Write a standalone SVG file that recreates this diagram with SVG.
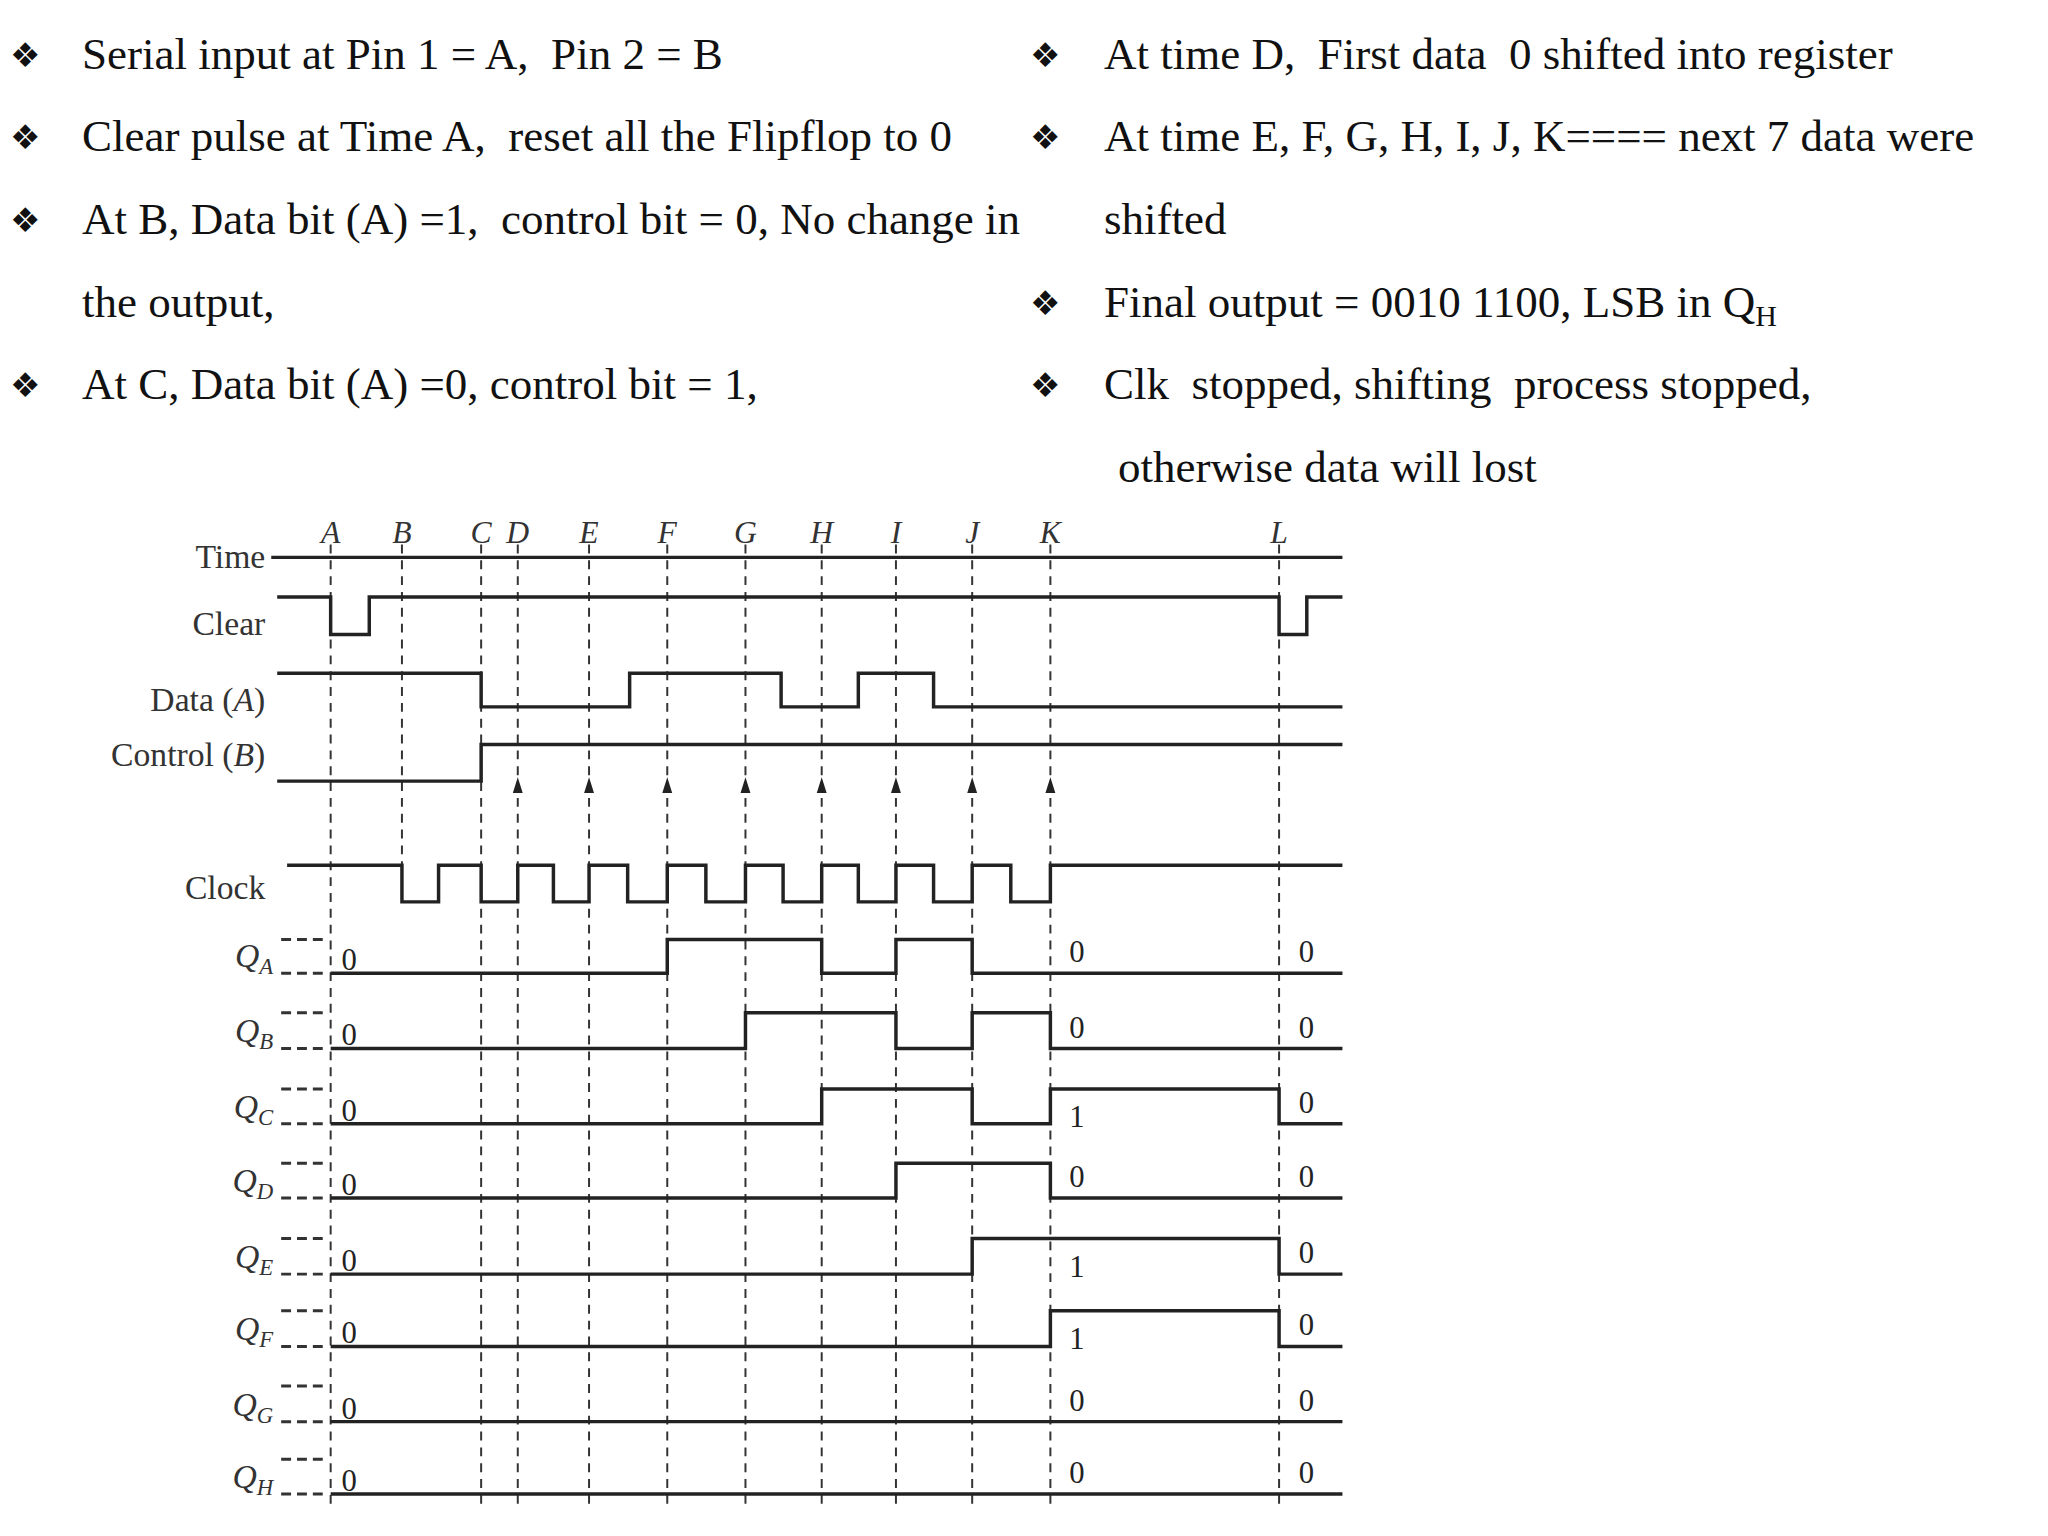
<svg xmlns="http://www.w3.org/2000/svg" width="2048" height="1536" viewBox="0 0 2048 1536">
<style>
.t{font-family:"Liberation Serif",serif;font-size:45px;fill:#111;white-space:pre}
.b{font-family:"DejaVu Sans",sans-serif;font-size:34px;fill:#111}
.l{font-family:"Liberation Serif",serif;font-size:34px;fill:#333;text-anchor:end}
.q{font-family:"Liberation Serif",serif;font-size:34px;font-style:italic;fill:#333;text-anchor:end}
.tl{font-family:"Liberation Serif",serif;font-size:32px;font-style:italic;fill:#333;text-anchor:middle}
.v{font-family:"Liberation Serif",serif;font-size:31px;fill:#222}
.w{fill:none;stroke:#222;stroke-width:3.5}
.d{fill:none;stroke:#333;stroke-width:2;stroke-dasharray:9,7}
.s{fill:none;stroke:#333;stroke-width:3;stroke-dasharray:10,6}
</style>
<g id="text">
<text class="b" x="10" y="67">❖</text><text class="t" x="82" y="69" xml:space="preserve">Serial input at Pin 1 = A,  Pin 2 = B</text>
<text class="b" x="10" y="149">❖</text><text class="t" x="82" y="151" xml:space="preserve">Clear pulse at Time A,  reset all the Flipflop to 0</text>
<text class="b" x="10" y="232">❖</text><text class="t" x="82" y="234" xml:space="preserve">At B, Data bit (A) =1,  control bit = 0, No change in</text>
<text class="t" x="82" y="317">the output,</text>
<text class="b" x="10" y="397">❖</text><text class="t" x="82" y="399">At C, Data bit (A) =0, control bit = 1,</text>
<text class="b" x="1030" y="67">❖</text><text class="t" x="1104" y="69" xml:space="preserve">At time D,  First data  0 shifted into register</text>
<text class="b" x="1030" y="149">❖</text><text class="t" x="1104" y="151">At time E, F, G, H, I, J, K==== next 7 data were</text>
<text class="t" x="1104" y="234">shifted</text>
<text class="b" x="1030" y="315">❖</text><text class="t" x="1104" y="317">Final output = 0010 1100, LSB in Q<tspan font-size="30" dy="9">H</tspan></text>
<text class="b" x="1030" y="397">❖</text><text class="t" x="1104" y="399" xml:space="preserve">Clk  stopped, shifting  process stopped,</text>
<text class="t" x="1118" y="482">otherwise data will lost</text>
</g>
<g transform="scale(0.99)">
<g id="labels">
<text class="l" x="268" y="574">Time</text>
<text class="l" x="268" y="641">Clear</text>
<text class="l" x="268" y="718">Data (<tspan font-style="italic">A</tspan>)</text>
<text class="l" x="268" y="774">Control (<tspan font-style="italic">B</tspan>)</text>
<text class="l" x="268" y="908">Clock</text>
<text class="tl" x="334" y="548">A</text><text class="tl" x="406" y="548">B</text><text class="tl" x="486" y="548">C</text><text class="tl" x="523" y="548">D</text><text class="tl" x="595" y="548">E</text><text class="tl" x="674" y="548">F</text><text class="tl" x="753" y="548">G</text><text class="tl" x="830" y="548">H</text><text class="tl" x="905" y="548">I</text><text class="tl" x="982" y="548">J</text><text class="tl" x="1061" y="548">K</text><text class="tl" x="1292" y="548">L</text>
<text class="q" x="276" y="977">Q<tspan font-size="23" dy="7">A</tspan></text>
<text class="q" x="276" y="1053">Q<tspan font-size="23" dy="7">B</tspan></text>
<text class="q" x="276" y="1129">Q<tspan font-size="23" dy="7">C</tspan></text>
<text class="q" x="276" y="1204">Q<tspan font-size="23" dy="7">D</tspan></text>
<text class="q" x="276" y="1281">Q<tspan font-size="23" dy="7">E</tspan></text>
<text class="q" x="276" y="1354">Q<tspan font-size="23" dy="7">F</tspan></text>
<text class="q" x="276" y="1430">Q<tspan font-size="23" dy="7">G</tspan></text>
<text class="q" x="276" y="1503">Q<tspan font-size="23" dy="7">H</tspan></text>
</g>
<g id="connectors">
<path class="d" d="M334 550V1520M406 550V880M486 550V1520M523 550V1520M595 550V1520M674 550V1520M753 550V1520M830 550V1520M905 550V1520M982 550V1520M1061 550V1520M1292 550V1520"/>
<path class="s" d="M284 949H330M284 983H330M284 1023H330M284 1059H330M284 1100H330M284 1135H330M284 1175H330M284 1210H330M284 1251H330M284 1287H330M284 1324H330M284 1360H330M284 1400H330M284 1436H330M284 1474H330M284 1509H330"/>
<path class="w" stroke-width="2.5" d="M274 563H1356"/>
<path class="w" d="M280 603H334V641H373V603H1292V641H1320V603H1356"/>
<path class="w" d="M280 680H486V714H636V680H789V714H867V680H943V714H1356"/>
<path class="w" d="M280 789H486V752H1356"/>
<path class="w" d="M290 874H406V911H443V874H486V911H523V874H559V911H595V874H634V911H674V874H713V911H753V874H791V911H830V874H867V911H905V874H943V911H982V874H1021V911H1061V874H1356"/>
<g fill="#222"><path d="M523 785l-5 16h10zM595 785l-5 16h10zM674 785l-5 16h10zM753 785l-5 16h10zM830 785l-5 16h10zM905 785l-5 16h10zM982 785l-5 16h10zM1061 785l-5 16h10z"/></g>
<path class="w" d="M334 983H674V949H830V983H905V949H982V983H1356"/>
<path class="w" d="M334 1059H753V1023H905V1059H982V1023H1061V1059H1356"/>
<path class="w" d="M334 1135H830V1100H982V1135H1061V1100H1292V1135H1356"/>
<path class="w" d="M334 1210H905V1175H1061V1210H1356"/>
<path class="w" d="M334 1287H982V1251H1292V1287H1356"/>
<path class="w" d="M334 1360H1061V1324H1292V1360H1356"/>
<path class="w" d="M334 1436H1356"/>
<path class="w" stroke-width="4.5" d="M334 1509H1356"/>
</g>
<g id="values">
<text class="v" x="345" y="980">0</text><text class="v" x="345" y="1056">0</text><text class="v" x="345" y="1132">0</text><text class="v" x="345" y="1207">0</text><text class="v" x="345" y="1284">0</text><text class="v" x="345" y="1357">0</text><text class="v" x="345" y="1433">0</text><text class="v" x="345" y="1506">0</text>
<text class="v" x="1080" y="972">0</text><text class="v" x="1080" y="1048">0</text><text class="v" x="1080" y="1138">1</text><text class="v" x="1080" y="1199">0</text><text class="v" x="1080" y="1290">1</text><text class="v" x="1080" y="1363">1</text><text class="v" x="1080" y="1425">0</text><text class="v" x="1080" y="1498">0</text>
<text class="v" x="1312" y="972">0</text><text class="v" x="1312" y="1048">0</text><text class="v" x="1312" y="1124">0</text><text class="v" x="1312" y="1199">0</text><text class="v" x="1312" y="1276">0</text><text class="v" x="1312" y="1349">0</text><text class="v" x="1312" y="1425">0</text><text class="v" x="1312" y="1498">0</text>
</g>
</g>
</svg>
